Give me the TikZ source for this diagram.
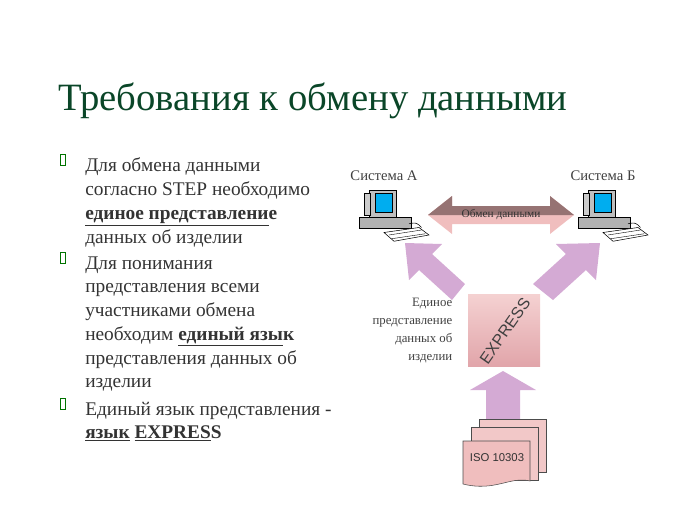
\documentclass[tikz,border=0pt]{standalone}
\usepackage{fontspec}
\setmainfont{Liberation Serif}
\newfontfamily\sansf{Liberation Sans}
\begin{document}
\begin{tikzpicture}[x=0.75pt,y=-0.75pt,
  txt/.style={anchor=base west,inner sep=0pt,font=\fontsize{14.5}{17}\selectfont,text=black!80},
  bul/.style={draw=green!45!black,line width=0.5pt,minimum width=4pt,minimum height=8pt,inner sep=0pt},
  small/.style={font=\fontsize{9.6}{13.5}\selectfont,text=black!75,align=right}]
\useasboundingbox (0,0) rectangle (683,511);
\definecolor{ttl}{RGB}{10,70,40}
\definecolor{vio}{RGB}{212,170,212}
\definecolor{pk}{RGB}{240,190,190}
\definecolor{pkb}{RGB}{225,165,170}
\definecolor{pkd}{RGB}{150,115,115}
\node[anchor=base west,inner sep=0pt,text=ttl,font=\fontsize{29}{32}\selectfont] (title) at (58,110) {Требования к обмену данными};
% bullets
\node[bul] (b1) at (63,160) {};
\node[bul] (b2) at (63,258) {};
\node[bul] (b3) at (63,404) {};
\node[txt] (l1) at (85,171) {Для обмена данными};
\node[txt] (l2) at (85,195) {согласно STEP необходимо};
\node[txt] (l3) at (85,219) {\textbf{\underline{единое представлени}е}};
\node[txt] (l4) at (85,243) {данных об изделии};
\node[txt] (l5) at (85,269) {Для понимания};
\node[txt] (l6) at (85,292) {представления всеми};
\node[txt] (l7) at (85,316) {участниками обмена};
\node[txt] (l8) at (85,340) {необходим \textbf{\underline{единый язы}к}};
\node[txt] (l9) at (85,364) {представления данных об};
\node[txt] (l10) at (85,387) {изделии};
\node[txt] (l11) at (85,415) {Единый язык представления -};
\node[txt] (l12) at (85,438) {\textbf{\underline{язык} \underline{EXPRES}S}};
% system labels
\node[font=\fontsize{11}{12}\selectfont,text=black!75] (sa) at (384,176) {Система А};
\node[font=\fontsize{11}{12}\selectfont,text=black!75] (sb) at (603,176) {Система Б};
% computers
\foreach \cx in {359,578}{
  \begin{scope}[shift={(\cx,190)},scale=1.25]
    \fill[gray!60,draw=black,line width=0.4pt] (0,22) rectangle (42,31);
    \fill[gray!50,draw=black,line width=0.4pt] (8,0) rectangle (30,22);
    \fill[cyan,draw=black,line width=0.4pt] (13,3) rectangle (27,18);
    \fill[gray!40,draw=black,line width=0.4pt] (4,3) rectangle (9,20);
    \fill[white,draw=black,line width=0.4pt] (20,34) -- (48,30) -- (56,36) -- (28,41) -- cycle;
    \draw[line width=0.3pt] (24,36)--(50,32) (26,39)--(53,35);
    \draw[line width=0.4pt] (40,27) .. controls (46,26) .. (50,30);
  \end{scope}}
% double arrow
\fill[pk] (428,215) -- (452,196) -- (452,206) -- (550,206) -- (550,196) -- (574,215) -- (550,234) -- (550,224) -- (452,224) -- (452,234) -- cycle;
\fill[pkd] (428,215) -- (452,196) -- (452,206) -- (550,206) -- (550,196) -- (574,215) -- cycle;
\node[font=\fontsize{8.5}{9}\selectfont,text=black!80] (ex) at (501,215) {Обмен данными};
% violet arrows
\fill[vio] (465,284) -- (432,254) -- (442,244) -- (405,243) -- (409,280) -- (419,270) -- (452,300) -- cycle;
\fill[vio] (533,284) -- (566,254) -- (556,244) -- (600,243) -- (596,280) -- (586,270) -- (553,300) -- cycle;
\fill[vio] (486,419) -- (486,390) -- (470,390) -- (503,371) -- (536,390) -- (520,390) -- (520,419) -- cycle;
\fill[vio] (486,421) rectangle (520,424);
% EXPRESS box
\shade[top color=pk!70,bottom color=pkb,draw=none] (468,294) rectangle (540,366);
\node[rotate=55,inner sep=0pt,font=\sansf\fontsize{12}{13}\selectfont,text=black!75] (exp) at (505,331) {EXPRESS};
\node[small,anchor=east] (ed) at (457,331) {Единое\\представление\\данных об\\изделии};
% ISO pages
\foreach \d in {16,8}{
  \fill[pk!85,draw=black!70,line width=0.4pt] (463+\d,427-\d+8) rectangle (530+\d,480-\d+8);}
\fill[pk,draw=black!70,line width=0.4pt] (463,441) -- (530,441) -- (530,481) .. controls (510,476) and (495,492) .. (463,484) -- cycle;
\node[font=\sansf\fontsize{8.5}{10}\selectfont,text=black!80] (iso) at (497,458) {ISO 10303};
\end{tikzpicture}
\end{document}
